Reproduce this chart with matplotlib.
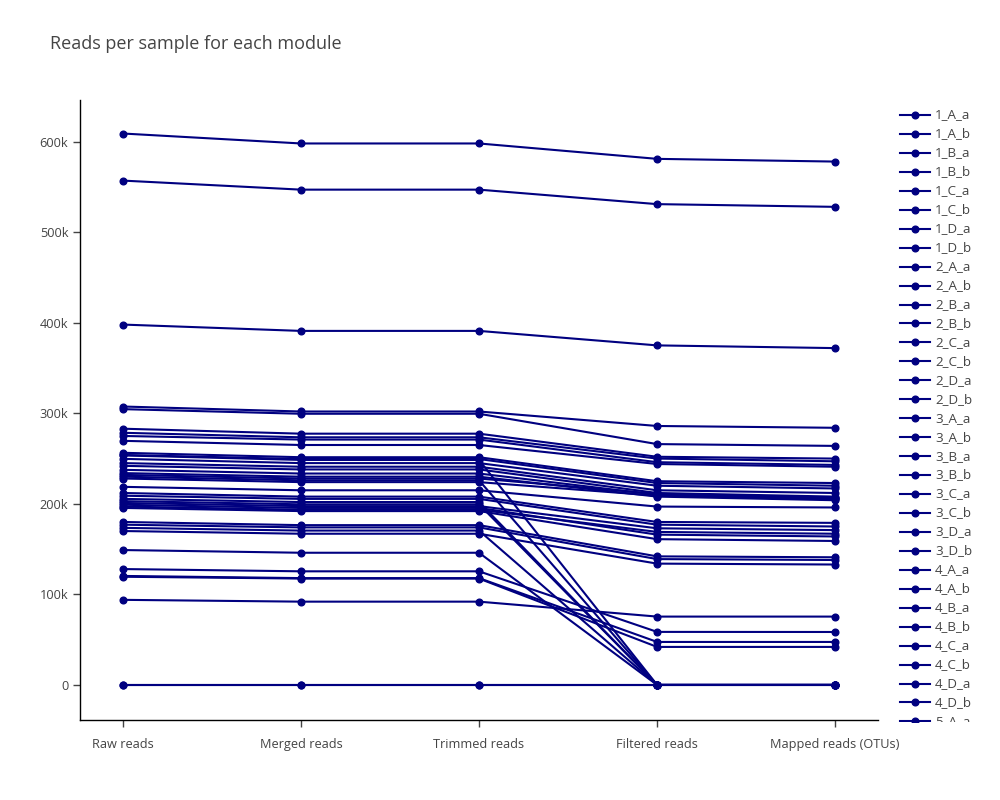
import matplotlib
matplotlib.use("Agg")
import matplotlib.pyplot as plt
from matplotlib.ticker import FuncFormatter

plt.rcParams['font.family'] = ['Open Sans', 'DejaVu Sans']

modules = ["Raw reads", "Merged reads", "Trimmed reads", "Filtered reads", "Mapped reads (OTUs)"]

samples = [f"{g}_{s}_{r}" for g in range(1, 6) for s in "ABCD" for r in "ab"]

# reads per module (thousands), one row per sample
raw = [609, 557, 398, 307.5, 304.6, 283, 278.5, 275, 269.6, 253.5,
       256.4, 254, 249.7, 245, 242, 237.6, 234, 232, 230, 228,
       218.8, 212, 209, 205.5, 201, 197, 199, 203, 195.5, 180,
       177, 173.5, 170, 149, 128, 120.4, 119.5, 94, 0, 0]
merged = [598, 547, 391, 302, 299.5, 277.5, 273.5, 271, 265, 248.5,
          251.5, 249.5, 245, 241, 238, 233.5, 230, 228, 226, 224,
          215, 208, 205.5, 202, 197.5, 193.5, 195.5, 199.5, 192, 176.5,
          174, 170.5, 167, 146, 125.5, 118, 117.5, 92, 0, 0]
trimmed = [598, 547, 391, 302, 299.5, 277.5, 273.5, 271, 265, 248.5,
           251.5, 249.5, 245, 241, 238, 233.5, 230, 228, 226, 224,
           215, 208, 205.5, 202, 197.5, 193.5, 195.5, 199.5, 192, 176.5,
           174, 170.5, 167, 146, 125.5, 118, 117.5, 92, 0, 0]
filtered = [581, 531, 375, 286, 266, 252, 250, 246, 244, 0,
            225, 223, 220, 215, 212, 210, 208, 211, 0, 209,
            197, 180, 177, 0, 173, 169, 166, 0, 161, 142,
            139, 0, 134, 0, 58.6, 47.5, 42, 75.5, 0, 0]
mapped = [578, 528, 372, 284, 264, 250, 247, 243, 241, 0,
          223, 220, 217, 212, 208, 206, 204, 207, 0, 205,
          196, 179, 175, 0, 171, 167, 164, 0, 159, 141,
          138, 0, 133, 0, 58.5, 47.5, 42, 75.5, 0, 0]

color = "#000080"
text_color = "#444444"

fig = plt.figure(figsize=(10, 8), dpi=100)
ax = fig.add_axes([0.08, 0.1, 0.798, 0.775])

x = list(range(len(modules)))
for i, name in enumerate(samples):
    y = [raw[i] * 1000, merged[i] * 1000, trimmed[i] * 1000, filtered[i] * 1000, mapped[i] * 1000]
    ax.plot(x, y, color=color, linewidth=1.5, marker="o", markersize=4.8, label=name)

ax.set_xlim(-0.24, 4.24)
ax.set_ylim(-38700, 646000)
ax.set_xticks(x)
ax.set_xticklabels(modules)
ax.set_yticks([0, 100000, 200000, 300000, 400000, 500000, 600000])
ax.yaxis.set_major_formatter(FuncFormatter(lambda v, p: "0" if v == 0 else f"{int(v / 1000)}k"))
for side in ["top", "right"]:
    ax.spines[side].set_visible(False)
for side in ["left", "bottom"]:
    ax.spines[side].set_color("black")
    ax.spines[side].set_linewidth(1)
ax.tick_params(axis="both", direction="out", length=5, width=1, color=text_color,
               labelcolor=text_color, labelsize=9.2)
ax.tick_params(axis="x", pad=8)

fig.text(0.05, 0.945, "Reads per sample for each module", fontsize=13,
         color=text_color, va="center", ha="left")

# legend, clipped at the bottom like the scrolling legend in the picture
leg = fig.add_axes([0.89, 0.0975, 0.11, 0.7775])
leg.set_xlim(890, 1000)
leg.set_ylim(722, 100)
leg.axis("off")
for i, name in enumerate(samples[:33]):
    yy = 115 + 18.95 * i
    leg.plot([900, 930], [yy, yy], color=color, linewidth=1.5, clip_on=True)
    leg.plot([915], [yy], color=color, marker="o", markersize=4.8, clip_on=True)
    leg.text(935, yy, name, fontsize=9.6, color=text_color, va="center", ha="left", clip_on=True)

fig.savefig("out.png", dpi=100)
